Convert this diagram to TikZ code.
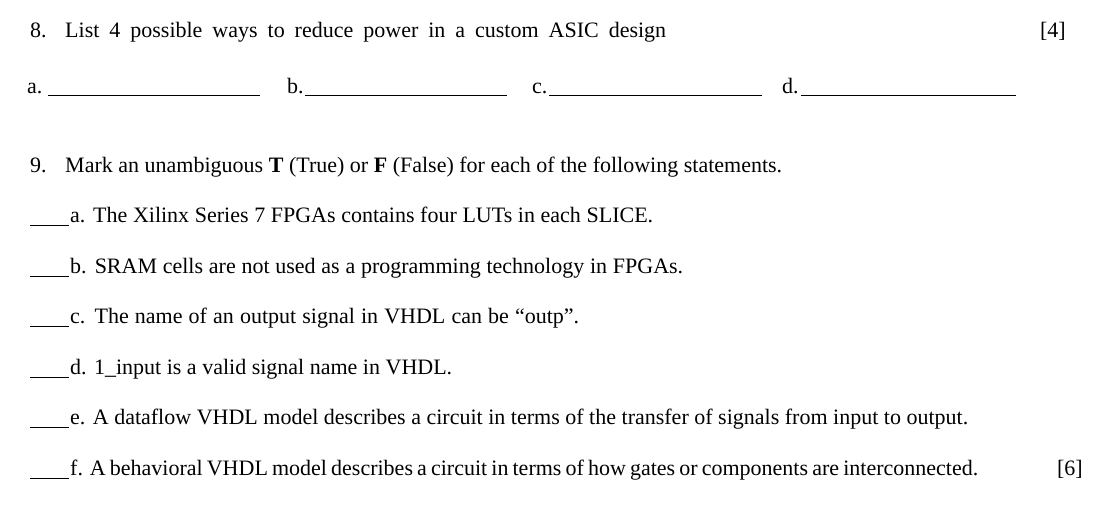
\documentclass[tikz,border=0pt]{standalone}
\usepackage{fontspec}
\setmainfont{Liberation Serif}
\begin{document}
\begin{tikzpicture}[x=1pt,y=-1pt,
  txt/.style={anchor=base west,inner sep=0pt,font=\fontsize{22}{26}\selectfont},
  rtxt/.style={anchor=base east,inner sep=0pt,font=\fontsize{22}{26}\selectfont},
  blank/.style={line width=0.9pt}]
\useasboundingbox (0,0) rectangle (1119,509);
\node[txt] (n8) at (30,37) {8.};
\node[txt] (q8) at (65,37) {\hbox to 601pt{List 4 possible ways to reduce power in a custom ASIC design}};
\node[rtxt] (m4) at (1066,37) {[4]};
\node[txt] (la) at (27,93) {a.};
\draw[blank] (48,95) -- (260,95);
\node[txt] (lb) at (287,93) {b.};
\draw[blank] (305,95) -- (507,95);
\node[txt] (lc) at (532,93) {c.};
\draw[blank] (549,95) -- (762,95);
\node[txt] (ld) at (782,93) {d.};
\draw[blank] (801,95) -- (1016,95);
\node[txt] (n9) at (30,172) {9.};
\node[txt] (q9) at (65,172) {\hbox to 717pt{Mark an unambiguous \textbf{T} (True) or \textbf{F} (False) for each of the following statements.}};
\foreach \y/\t/\w in {222/{a. The Xilinx Series 7 FPGAs contains four LUTs in each SLICE.}/583,
  273/{b. SRAM cells are not used as a programming technology in FPGAs.}/613,
  323/{c. The name of an output signal in VHDL can be “outp”.}/509,
  374/{d. 1\_input is a valid signal name in VHDL.}/382,
  424/{e. A dataflow VHDL model describes a circuit in terms of the transfer of signals from input to output.}/898,
  475/{f. A behavioral VHDL model describes a circuit in terms of how gates or components are interconnected.}/908}{
  \draw[blank] (30,\y+3) -- (69,\y+3);
  \node[txt] at (70,\y) {\hbox to \w pt{\t}};
}
\node[rtxt] (m6) at (1083,475) {[6]};
\end{tikzpicture}
\end{document}
